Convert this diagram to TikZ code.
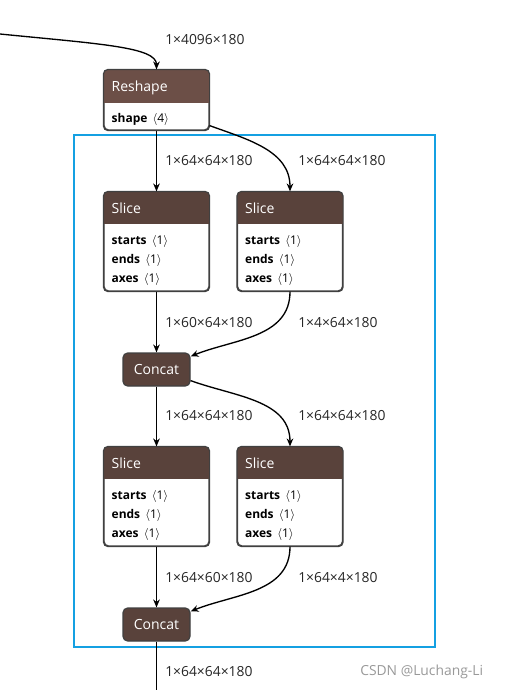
\documentclass[tikz,border=0pt]{standalone}
\usepackage{fontspec}
\setmainfont{Open Sans}
\usetikzlibrary{arrows.meta}

\definecolor{shapebrown}{RGB}{108,79,71}
\definecolor{tensorbrown}{RGB}{89,66,59}
\definecolor{boxline}{RGB}{64,64,64}
\definecolor{groupblue}{RGB}{20,160,226}

\begin{document}
\begin{tikzpicture}[x=0.75pt, y=-0.75pt,
		edge/.style={draw=black, line width=1pt, -{Stealth[length=6pt, width=5pt]}},
		opbox/.style={draw=boxline, line width=0.9pt, fill=white, rounded corners=3.5pt, minimum width=78.75pt, inner sep=0pt},
		concatbox/.style={draw=boxline, line width=0.9pt, fill=tensorbrown, rounded corners=3.5pt, minimum width=50.25pt, minimum height=24.75pt, inner sep=0pt, text=white, font=\fontsize{10.5}{12}\selectfont},
		title/.style={text=white, font=\fontsize{10.5}{12}\selectfont, anchor=west, inner sep=0pt},
		attrs/.style={font=\fontsize{9}{14.4}\selectfont, align=left, anchor=north west, inner sep=0pt},
		shapelbl/.style={font=\fontsize{10.4}{12}\selectfont, text=black!85, anchor=west, inner sep=0pt, yshift=-1.2pt}]

	\useasboundingbox (0,0) rectangle (512,690);

	% Group frame
	\draw[groupblue, line width=1.5pt] (74,135) rectangle (435,647);

	% Reshape node
	\node[opbox, minimum height=45pt] (r) at (156.5,100) {};
	\begin{scope}
		\clip[rounded corners=3.5pt] (r.north west) rectangle (r.south east);
		\fill[shapebrown] (r.north west) rectangle ([yshift=-25.5pt]r.north east);
	\end{scope}
	\draw[boxline, line width=0.9pt, rounded corners=3.5pt] (r.north west) rectangle (r.south east);
	\node[title] (r-t) at ([xshift=6pt, yshift=-14pt]r.north west) {Reshape};
	\node[attrs] (r-a) at ([xshift=6pt, yshift=-32.5pt]r.north west) {\textbf{shape}\, $\langle$4$\rangle$};

	% Slice nodes
	\foreach \name/\cx/\cy in {s1/156.5/241.5, s2/290/241.5, s3/156.5/496.5, s4/290/496.5} {
		\node[opbox, minimum height=74.25pt] (\name) at (\cx,\cy) {};
		\begin{scope}
			\clip[rounded corners=3.5pt] (\name.north west) rectangle (\name.south east);
			\fill[tensorbrown] (\name.north west) rectangle ([yshift=-24.75pt]\name.north east);
		\end{scope}
		\draw[boxline, line width=0.9pt, rounded corners=3.5pt] (\name.north west) rectangle (\name.south east);
		\node[title] (\name-t) at ([xshift=6pt, yshift=-13pt]\name.north west) {Slice};
		\node[attrs] (\name-a) at ([xshift=6pt, yshift=-32.5pt]\name.north west)
			{\textbf{starts}\, $\langle$1$\rangle$\\ \textbf{ends}\, $\langle$1$\rangle$\\ \textbf{axes}\, $\langle$1$\rangle$};
	}

	% Concat nodes
	\node[concatbox] (c1) at (156.5,369.5) {Concat};
	\node[concatbox] (c2) at (156.5,624.5) {Concat};

	% Free ends
	\coordinate (src) at (0,34);
	\coordinate (out) at (156.5,690);

	% Edges
	\draw[edge] (src) .. controls (100,44) and (156.5,47) .. (r.north);
	\draw[edge] (r.south) -- (s1.north);
	\draw[edge] ([yshift=3.75pt]r.south east) to[out=-20, in=90] (s2.north);
	\draw[edge] (s1.south) -- (c1.north);
	\draw[edge] (s2.south) to[out=-90, in=22] ([yshift=-3pt]c1.north east);
	\draw[edge] (c1.south) -- (s3.north);
	\draw[edge] ([yshift=4.5pt]c1.south east) to[out=-20, in=90] (s4.north);
	\draw[edge] (s3.south) -- (c2.north);
	\draw[edge] (s4.south) to[out=-90, in=22] ([yshift=-3pt]c2.north east);
	\draw[line width=1pt] (c2.south) -- (out);

	% Shape labels
	\node[shapelbl] (l0) at (165,38) {1×4096×180};
	\node[shapelbl] (l1) at (165,159) {1×64×64×180};
	\node[shapelbl] (l2) at (298,159) {1×64×64×180};
	\node[shapelbl] (l3) at (165,321) {1×60×64×180};
	\node[shapelbl] (l4) at (298,321) {1×4×64×180};
	\node[shapelbl] (l5) at (165,414) {1×64×64×180};
	\node[shapelbl] (l6) at (298,414) {1×64×64×180};
	\node[shapelbl] (l7) at (165,576) {1×64×60×180};
	\node[shapelbl] (l8) at (298,576) {1×64×4×180};
	\node[shapelbl] (l9) at (165,670) {1×64×64×180};

	% Watermark
	\node[shapelbl, text=black!40] (wm) at (360,670) {CSDN @Luchang-Li};

\end{tikzpicture}
\end{document}
